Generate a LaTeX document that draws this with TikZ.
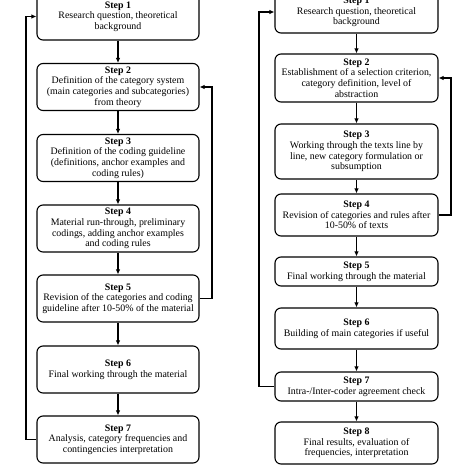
\documentclass[tikz,border=0pt]{standalone}
\usepackage{fontspec}
\setmainfont{Liberation Serif}
\usetikzlibrary{arrows.meta}
\tikzset{
  stepbox/.style={draw, line width=1.1pt, rounded corners=6pt, align=center,
    inner sep=0pt, font=\fontsize{9.9}{10.7}\selectfont},
  arr/.style={line width=1.1pt, -{Latex[length=5pt,width=4.5pt]}},
  fb/.style={line width=1.1pt, -{Latex[length=5pt,width=4.5pt]}}
}
\newcommand{\stp}[1]{\textbf{Step #1}}
\begin{document}
\begin{tikzpicture}[x=1pt,y=-1pt]
\useasboundingbox (0,0) rectangle (474,474);
% left column
\begin{scope}[every node/.style={stepbox, minimum width=162pt, minimum height=47pt}]
\node (L1) at (118,16.5) {\stp{1}\\Research question, theoretical\\background};
\node (L2) at (118,87) {\stp{2}\\Definition of the category system\\(main categories and subcategories)\\from theory};
\node (L3) at (118,158) {\stp{3}\\Definition of the coding guideline\\(definitions, anchor examples and\\coding rules)};
\node (L4) at (118,228.5) {\stp{4}\\Material run-through, preliminary\\codings, adding anchor examples\\and coding rules};
\node (L5) at (118,298.5) {\stp{5}\\Revision of the categories and coding\\guideline after 10-50\% of the material};
\node (L6) at (118,369.5) {\stp{6}\\Final working through the material};
\node (L7) at (118,439.5) {\stp{7}\\Analysis, category frequencies and\\contingencies interpretation};
\end{scope}
\foreach \a/\b in {L1/L2,L2/L3,L3/L4,L4/L5,L5/L6,L6/L7}
  \draw[arr] (\a.south) -- (\b.north);
\coordinate (LL) at (26,0);
\coordinate (LR) at (212,0);
\draw[fb] (L7.west) -- (L7.west -| LL) -- (L1.west -| LL) -- (L1.west);
\draw[fb] (L5.east) -- (L5.east -| LR) -- (L2.east -| LR) -- (L2.east);
% right column
\begin{scope}[every node/.style={stepbox, minimum width=163pt}]
\node[minimum height=42pt] (R1) at (356.5,12) {\stp{1}\\Research question, theoretical\\background};
\node[minimum height=48pt] (R2) at (356.5,78) {\stp{2}\\Establishment of a selection criterion,\\category definition, level of\\abstraction};
\node[minimum height=55pt] (R3) at (356.5,151.5) {\stp{3}\\Working through the texts line by\\line, new category formulation or\\subsumption};
\node[minimum height=42pt] (R4) at (356.5,215) {\stp{4}\\Revision of categories and rules after\\10-50\% of texts};
\node[minimum height=29pt] (R5) at (356.5,271.5) {\stp{5}\\Final working through the material};
\node[minimum height=41pt] (R6) at (356.5,328.5) {\stp{6}\\Building of main categories if useful};
\node[minimum height=29pt] (R7) at (356.5,386.5) {\stp{7}\\Intra-/Inter-coder agreement check};
\node[minimum height=42pt] (R8) at (356.5,443) {\stp{8}\\Final results, evaluation of\\frequencies, interpretation};
\end{scope}
\foreach \a/\b in {R1/R2,R2/R3,R3/R4,R4/R5,R5/R6,R6/R7,R7/R8}
  \draw[arr] (\a.south) -- (\b.north);
\coordinate (RL) at (259,0);
\coordinate (RR) at (451,0);
\draw[fb] (R7.west) -- (R7.west -| RL) -- (R1.west -| RL) -- (R1.west);
\draw[fb] (R4.east) -- (R4.east -| RR) -- (R2.east -| RR) -- (R2.east);
\end{tikzpicture}
\end{document}
